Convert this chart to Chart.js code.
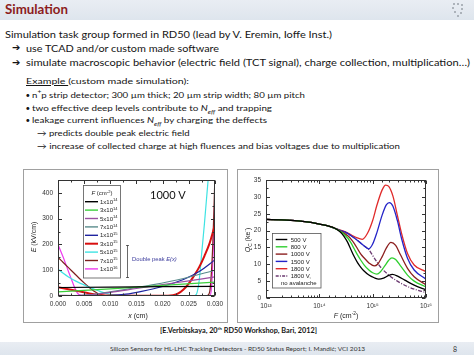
<!DOCTYPE html>
<html>
<head>
<meta charset="utf-8">
<title>Simulation</title>
<script src="https://cdn.jsdelivr.net/npm/chart.js@4.4.1/dist/chart.umd.min.js"></script>
<style>
  html, body { margin: 0; padding: 0; background: #fff; }
  body { width: 474px; height: 355px; position: relative; overflow: hidden;
         font-family: Lato, "Open Sans", sans-serif; color: #141414; }
  .bar { position: absolute; left: 0; width: 474px; background: linear-gradient(#e9edf3, #dee5ed); }
  .t { position: absolute; white-space: nowrap; line-height: 1; transform-origin: 0 0; }
  .arr { font-family: "DejaVu Sans", sans-serif; }
  .box { position: absolute; top: 169px; height: 154px; border: 1px solid #a0a0a0;
         box-sizing: border-box; background: #fff; }
  .box canvas { position: absolute; left: 0; top: 0; }
  .dot { position: absolute; width: 2px; height: 2px; border-radius: 1px; background: #9aa0a8; }
  sub, sup { line-height: 0; }
</style>
</head>
<body>
<div class="bar" style="top:0;height:20px"></div>
<div class="bar" style="top:342px;height:13px"></div>

<div class="t" data-b="14" data-w="63" style="left:5px;font-size:14px;font-weight:bold;color:#8c1c1c">Simulation</div>
<div class="dot" style="left:453px;top:3px"></div>
<div class="dot" style="left:457px;top:3px"></div>
<div class="dot" style="left:461px;top:4px"></div>
<div class="dot" style="left:452px;top:7px"></div>
<div class="dot" style="left:461px;top:8px"></div>
<div class="dot" style="left:454px;top:11px"></div>
<div class="dot" style="left:460px;top:12px"></div>
<div class="dot" style="left:457px;top:15px"></div>

<div class="t" data-b="38" data-w="327" style="left:5px;font-size:10.2px">Simulation task group formed in RD50 (lead by V. Eremin, Ioffe Inst.)</div>
<div class="t arr" data-b="52" style="left:12px;font-size:10px;font-weight:bold">➔</div>
<div class="t" data-b="52" data-w="193" style="left:26px;font-size:10.2px">use TCAD and/or custom made software</div>
<div class="t arr" data-b="66.4" style="left:12px;font-size:10px;font-weight:bold">➔</div>
<div class="t" data-b="66.4" data-w="444" style="left:26px;font-size:10.2px">simulate macroscopic behavior (electric field (TCT signal), charge collection, multiplication…)</div>

<div class="t" data-b="83.6" data-w="163" style="left:26px;font-size:8px"><span style="text-decoration:underline">Example </span>(custom made simulation):</div>
<div class="t" data-b="97.9" style="left:25.5px;font-size:8px">•</div>
<div class="t" data-b="97.9" data-w="273" style="left:31.7px;font-size:8px">n<sup style="font-size:5.5px">+</sup>p strip detector; 300 µm thick; 20 µm strip width; 80 µm pitch</div>
<div class="t" data-b="110.6" style="left:25.5px;font-size:8px">•</div>
<div class="t" data-b="110.6" data-w="240" style="left:31.7px;font-size:8px">two effective deep levels contribute to <i>N<sub style="font-size:5.5px">eff</sub></i> and trapping</div>
<div class="t" data-b="122.9" style="left:25.5px;font-size:8px">•</div>
<div class="t" data-b="122.9" data-w="235" style="left:31.7px;font-size:8px">leakage current influences <i>N<sub style="font-size:5.5px">eff</sub></i> by charging the deffects</div>
<div class="t" data-b="135.6" data-w="152.6" style="left:36.7px;font-size:8px">→ predicts double peak electric field</div>
<div class="t" data-b="148.6" data-w="363" style="left:36.7px;font-size:8px">→ increase of collected charge at high fluences and bias voltages due to multiplication</div>

<div class="box" style="left:23px;width:205px"><canvas id="fieldChart" width="203" height="152"></canvas></div>
<div class="box" style="left:237px;width:202px"><canvas id="chargeChart" width="200" height="152"></canvas></div>

<div class="t" data-b="333.2" data-w="157" style="left:160px;font-size:7px;font-weight:bold">[E.Verbitskaya, 20<sup style="font-size:4.5px">th</sup> RD50 Workshop, Bari, 2012]</div>
<div class="t" data-b="351.5" data-w="255" style="left:110px;font-size:6.5px;color:#333">Silicon Sensors for HL-LHC Tracking Detectors - RD50 Status Report; I. Mandić; VCI 2013</div>
<div class="t" data-b="352" style="left:453px;font-size:7px;color:#333">8</div>

<script>
// --- Slide text: place by baseline, squeeze to the measured widths ---
document.querySelectorAll('.t').forEach(el => {
    const fs = parseFloat(el.style.fontSize);
    el.style.top = (parseFloat(el.dataset.b) - 0.887 * fs) + 'px';
    if (el.dataset.w) {
        const w = el.getBoundingClientRect().width;
        el.style.transform = 'scaleX(' + (parseFloat(el.dataset.w) / w) + ')';
    }
});

// --- Left panel data: E(x) at 1000 V, x in cm, E in kV/cm ---
const fluenceMant = ['1', '3', '5', '7', '1', '3', '5', '7', '1'];
const fluenceExp = ['14', '14', '14', '14', '15', '15', '15', '15', '16'];
const fluenceColors = ['#000000', '#3ccf3c', '#9a4fa0', '#5a8c8c', '#1f24a0',
                       '#d80f0f', '#3fe3e3', '#7d1f1f', '#ee3bee'];

const e1e14 = [[0, 33], [0.01, 34.5], [0.02, 36], [0.03, 37.5]];
const e3e14 = [[0, 16], [0.01, 28], [0.02, 41], [0.03, 54]];
const e5e14 = [[0, 3], [0.003, 2], [0.006, 4], [0.01, 14], [0.015, 29], [0.02, 44], [0.025, 59], [0.03, 74]];
const e7e14 = [[0, 2], [0.004, 2], [0.0065, 5], [0.009, 13], [0.013, 26], [0.018, 43], [0.024, 68], [0.03, 100]];
const e1e15 = [[0, 1], [0.007, 1], [0.01, 2], [0.013, 7], [0.016, 18], [0.02, 37], [0.024, 64], [0.027, 95], [0.03, 140]];
const e3e15 = [[0, 34], [0.002, 26], [0.004, 18], [0.006, 10], [0.008, 4], [0.01, 1.5], [0.015, 1], [0.021, 1],
               [0.022, 3], [0.023, 10], [0.024, 25], [0.025, 48], [0.026, 78], [0.027, 112], [0.028, 155],
               [0.029, 205], [0.03, 275]];
const e5e15 = [[0, 104], [0.001, 88], [0.002, 74], [0.003, 62], [0.004, 52], [0.005, 43], [0.006, 34], [0.007, 26],
               [0.008, 18], [0.009, 11], [0.01, 6], [0.012, 2], [0.015, 1], [0.026, 1], [0.0265, 8], [0.027, 60],
               [0.0275, 170], [0.028, 280], [0.0285, 400], [0.029, 520]];
const e7e15 = [[0, 150], [0.001, 130], [0.002, 110], [0.003, 90], [0.004, 70], [0.005, 51], [0.006, 33], [0.007, 17],
               [0.008, 6], [0.009, 2], [0.012, 1], [0.0285, 1], [0.029, 15], [0.0293, 80], [0.0296, 200],
               [0.0298, 320], [0.03, 460]];
const e1e16 = [[0, 200], [0.001, 150], [0.002, 95], [0.003, 42], [0.0035, 18], [0.004, 6], [0.005, 1.5],
               [0.029, 1.5], [0.0293, 20], [0.0295, 80], [0.0297, 180], [0.0299, 320], [0.03, 405]];
const fieldSeries = [e1e14, e3e14, e5e14, e7e14, e1e15, e3e15, e5e15, e7e15, e1e16];

// --- Right panel data: collected charge Qc (ke-) vs fluence F (cm^-2) ---
const voltLabels = ['500 V', '800 V', '1000 V', '1500 V', '1800 V', '1800 V,'];
const voltColors = ['#000000', '#2fcf2f', '#8c1f1f', '#2424c8', '#e02a2a', '#6b3a70'];

const qHead = [[1e13, 23.3], [2e13, 23.2], [4e13, 22.9], [7e13, 22.4], [1e14, 21.9], [1.5e14, 21.3], [2e14, 20.6]];
const q500 = qHead.concat([[2.5e14, 19.5], [2.9e14, 18.3], [3.4e14, 16.5], [3.9e14, 14.4], [4.5e14, 12.3],
    [5.2e14, 10.5], [6e14, 9.1], [6.9e14, 8.0], [8.5e14, 6.8], [1.07e15, 6.0], [1.3e15, 5.6], [1.6e15, 5.9],
    [2e15, 6.7], [2.35e15, 7.0], [3e15, 6.4], [4e15, 5.3], [6e15, 3.8], [1e16, 2.4]]);
const q800 = qHead.concat([[2.5e14, 19.7], [2.9e14, 18.9], [3.4e14, 17.8], [3.9e14, 16.4], [4.5e14, 14.6],
    [5.2e14, 12.8], [6e14, 11.2], [7e14, 9.7], [8.5e14, 8.3], [1e15, 7.5], [1.2e15, 7.1], [1.4e15, 7.8],
    [1.7e15, 9.6], [2e15, 11.2], [2.3e15, 11.9], [2.7e15, 11.4], [3.3e15, 9.6], [4.5e15, 6.8], [6e15, 5.0], [1e16, 3.3]]);
const q1000 = qHead.concat([[2.5e14, 19.8], [3e14, 19.1], [3.5e14, 18.3], [4e14, 17.3], [4.6e14, 16.0],
    [5.2e14, 14.6], [6e14, 13.0], [7e14, 11.8], [8.5e14, 10.4], [1.07e15, 9.5], [1.25e15, 10.1], [1.5e15, 12.2],
    [1.8e15, 14.8], [2.2e15, 16.5], [2.7e15, 15.6], [3.3e15, 12.9], [4.5e15, 8.8], [6e15, 6.3], [1e16, 3.9]]);
const q1500 = qHead.concat([[2.5e14, 20.0], [3e14, 19.6], [4e14, 18.4], [5e14, 17.3], [6.5e14, 15.8],
    [8.5e14, 14.6], [1e15, 16.0], [1.2e15, 19.4], [1.5e15, 24.5], [1.8e15, 27.6], [2.05e15, 28.3], [2.4e15, 27.2],
    [2.9e15, 23.0], [3.5e15, 17.5], [4.5e15, 11.8], [6e15, 8.3], [1e16, 5.6]]);
const q1800 = qHead.concat([[2.5e14, 20.1], [3e14, 19.7], [4e14, 18.7], [5e14, 17.9], [6.4e14, 17.4],
    [8e14, 19.2], [1e15, 23.0], [1.2e15, 27.5], [1.5e15, 32.0], [1.75e15, 33.5], [2e15, 33.1], [2.4e15, 30.2],
    [2.9e15, 24.6], [3.5e15, 19.0], [4.5e15, 13.2], [6e15, 9.8], [1e16, 7.8]]);
const q1800noAv = qHead.concat([[2.5e14, 20.0], [3e14, 19.6], [4e14, 18.4], [5e14, 17.3], [6.5e14, 15.8],
    [8.5e14, 14.3], [1e15, 12.6], [1.4e15, 9.2], [2e15, 6.8], [2.9e15, 5.0], [5e15, 3.1], [1e16, 1.6]]);
const chargeSeries = [q500, q800, q1000, q1500, q1800, q1800noAv];

// --- Helpers ---
const FAM = '"Liberation Sans", Arial, sans-serif';
const SUP = { '0': '⁰', '1': '¹', '2': '²', '3': '³', '4': '⁴', '5': '⁵', '6': '⁶', '7': '⁷', '8': '⁸', '9': '⁹' };
const toXY = arr => arr.map(p => ({ x: p[0], y: p[1] }));

// parts: [text, kind], kind '' | 'i' | 'sup' | 'sub'
function richText(ctx, parts, x, y, size, align, family) {
    const fam = family || FAM;
    const fontFor = k => (k === 'i' ? 'italic ' : '') + ((k === 'sup' || k === 'sub') ? size * 0.68 : size) + 'px ' + fam;
    let w = 0;
    parts.forEach(([t, k]) => { ctx.font = fontFor(k); w += ctx.measureText(t).width; });
    let cx = align === 'center' ? x - w / 2 : (align === 'right' ? x - w : x);
    ctx.textAlign = 'left';
    ctx.textBaseline = 'alphabetic';
    parts.forEach(([t, k]) => {
        ctx.font = fontFor(k);
        const dy = k === 'sup' ? -size * 0.4 : (k === 'sub' ? size * 0.25 : 0);
        ctx.fillText(t, cx, y + dy);
        cx += ctx.measureText(t).width;
    });
}

function verticalTitle(ctx, parts, x, y, size) {
    ctx.save();
    ctx.translate(x, y);
    ctx.rotate(-Math.PI / 2);
    richText(ctx, parts, 0, size * 0.35, size, 'center');
    ctx.restore();
}

function isPow10(v) {
    const e = Math.log10(v);
    return Math.abs(e - Math.round(e)) < 1e-6;
}

// Frame round the plot area with inward major/minor ticks on all four sides
const frameTicks = {
    id: 'frameTicks',
    afterDatasetsDraw(chart) {
        const { ctx, chartArea: a } = chart;
        const L = Math.round(a.left) + 0.5, R = Math.round(a.right) - 0.5;
        const T = Math.round(a.top) + 0.5, B = Math.round(a.bottom) - 0.5;
        ctx.save();
        ctx.strokeStyle = '#333';
        ctx.lineWidth = 1;
        ctx.strokeRect(L, T, R - L, B - T);
        const marks = scale => {
            const out = [];
            const vals = scale.ticks.map(t => t.value);
            if (scale.type === 'logarithmic') {
                vals.forEach(v => out.push([v, isPow10(v) ? 3.5 : 2]));
            } else {
                vals.forEach(v => {
                    out.push([v, 3.5]);
                    const step = vals.length > 1 ? vals[1] - vals[0] : 0;
                    const mid = v + step / 2;
                    if (step && mid <= scale.max + 1e-12) out.push([mid, 2]);
                });
            }
            return out;
        };
        ctx.beginPath();
        marks(chart.scales.x).forEach(([v, len]) => {
            const px = Math.round(chart.scales.x.getPixelForValue(v)) + 0.5;
            ctx.moveTo(px, B); ctx.lineTo(px, B - len);
            ctx.moveTo(px, T); ctx.lineTo(px, T + len);
        });
        marks(chart.scales.y).forEach(([v, len]) => {
            const py = Math.round(chart.scales.y.getPixelForValue(v)) + 0.5;
            ctx.moveTo(L, py); ctx.lineTo(L + len, py);
            ctx.moveTo(R, py); ctx.lineTo(R - len, py);
        });
        ctx.stroke();
        ctx.restore();
    }
};

const tickFont = { family: FAM, size: 6.5 };
const noGrid = { display: false, drawTicks: false, tickLength: 0 };

// --- Left chart: electric field profiles ---
const fieldDecor = {
    id: 'fieldDecor',
    afterDraw(chart) {
        const ctx = chart.ctx;
        ctx.save();
        ctx.fillStyle = '#222';
        verticalTitle(ctx, [['E', 'i'], [' (kV/cm)', '']], 10, 67, 7);
        richText(ctx, [['x', 'i'], [' (cm)', '']], 114, 147.5, 7, 'center');

        // legend box
        ctx.fillStyle = '#fff';
        ctx.fillRect(59, 15, 38, 93);
        ctx.strokeStyle = '#555';
        ctx.lineWidth = 0.8;
        ctx.strokeRect(59.5, 15.5, 37, 92.5);
        ctx.fillStyle = '#222';
        richText(ctx, [['F', 'i'], [' (cm', ''], ['-2', 'sup'], [')', '']], 78, 25.3, 6, 'center');
        fluenceMant.forEach((m, i) => {
            const y = 31.7 + i * 8.4;
            ctx.strokeStyle = fluenceColors[i];
            ctx.lineWidth = i === 5 ? 2 : 1.4;
            ctx.beginPath(); ctx.moveTo(61, y); ctx.lineTo(74, y); ctx.stroke();
            ctx.fillStyle = '#222';
            richText(ctx, [[m + 'x10', ''], [fluenceExp[i], 'sup']], 76, y + 2.1, 6, 'left');
        });

        // double-peak bracket
        ctx.strokeStyle = '#444';
        ctx.lineWidth = 0.8;
        ctx.beginPath();
        ctx.moveTo(103.5, 75); ctx.lineTo(103.5, 108);
        ctx.moveTo(102, 75.5); ctx.lineTo(105, 75.5);
        ctx.moveTo(102, 107.5); ctx.lineTo(105, 107.5);
        ctx.stroke();
        ctx.fillStyle = '#3b3b9c';
        richText(ctx, [['Double peak ', ''], ['E(x)', 'i']], 108, 91.3, 5.8, 'left');

        ctx.fillStyle = '#111';
        richText(ctx, [['1000 V', '']], 126, 29, 11, 'left', 'Lato, sans-serif');
        ctx.restore();
    }
};

new Chart(document.getElementById('fieldChart'), {
    type: 'line',
    data: {
        datasets: fieldSeries.map((s, i) => ({
            data: toXY(s),
            borderColor: fluenceColors[i],
            borderWidth: i === 5 ? 2 : 1.2,
            pointRadius: 0,
            cubicInterpolationMode: 'monotone'
        }))
    },
    options: {
        responsive: false,
        animation: false,
        layout: { padding: { left: 0, top: 10, right: 9, bottom: 0 } },
        plugins: { legend: { display: false }, tooltip: { enabled: false } },
        scales: {
            x: {
                type: 'linear', min: 0, max: 0.03,
                afterFit: s => { s.height = 26; },
                grid: noGrid, border: { display: false },
                ticks: { stepSize: 0.005, includeBounds: false, maxRotation: 0, autoSkip: false,
                         padding: 4, color: '#333', font: tickFont, callback: v => v.toFixed(3) }
            },
            y: {
                min: 0, max: 450,
                afterFit: s => { s.width = 34; },
                grid: noGrid, border: { display: false },
                ticks: { stepSize: 100, includeBounds: false, padding: 5, color: '#333', font: tickFont }
            }
        }
    },
    plugins: [frameTicks, fieldDecor]
});

// --- Right chart: collected charge vs fluence ---
const chargeDecor = {
    id: 'chargeDecor',
    afterDraw(chart) {
        const ctx = chart.ctx;
        ctx.save();
        ctx.fillStyle = '#222';
        verticalTitle(ctx, [['Q', 'i'], ['C', 'sub'], [' (ke', ''], ['-', 'sup'], [')', '']], 9.7, 70, 7);
        richText(ctx, [['F', 'i'], [' (cm', ''], ['-2', 'sup'], [')', '']], 108, 147.5, 7, 'center');

        ctx.fillStyle = '#fff';
        ctx.fillRect(34, 63, 49, 55);
        ctx.strokeStyle = '#555';
        ctx.lineWidth = 0.8;
        ctx.strokeRect(34.5, 63.5, 48.5, 54.5);
        voltLabels.forEach((lab, i) => {
            const y = 69.5 + i * 7.3;
            ctx.strokeStyle = voltColors[i];
            ctx.lineWidth = 1.4;
            ctx.setLineDash(i === 5 ? [3, 1.2, 1, 1.2] : []);
            ctx.beginPath(); ctx.moveTo(37.7, y); ctx.lineTo(49.3, y); ctx.stroke();
            ctx.fillStyle = '#222';
            richText(ctx, [[lab, '']], 52.7, y + 2.1, 6, 'left');
        });
        ctx.setLineDash([]);
        richText(ctx, [['no avalanche', '']], 43, 69.5 + 6 * 7.3 + 2.1, 6, 'left');
        ctx.restore();
    }
};

new Chart(document.getElementById('chargeChart'), {
    type: 'line',
    data: {
        datasets: chargeSeries.map((s, i) => ({
            data: toXY(s),
            borderColor: voltColors[i],
            borderWidth: 1.3,
            borderDash: i === 5 ? [4, 1.5, 1, 1.5] : [],
            pointRadius: 0,
            cubicInterpolationMode: 'monotone'
        }))
    },
    options: {
        responsive: false,
        animation: false,
        layout: { padding: { left: 0, top: 10, right: 12, bottom: 0 } },
        plugins: { legend: { display: false }, tooltip: { enabled: false } },
        scales: {
            x: {
                type: 'logarithmic', min: 1e13, max: 1e16,
                afterFit: s => { s.height = 24; },
                grid: noGrid, border: { display: false },
                ticks: {
                    maxRotation: 0, autoSkip: false, padding: 4, color: '#333', font: tickFont,
                    callback: v => isPow10(v)
                        ? '10' + String(Math.round(Math.log10(v))).split('').map(d => SUP[d]).join('')
                        : ''
                }
            },
            y: {
                min: 0, max: 35,
                afterFit: s => { s.width = 28; },
                grid: noGrid, border: { display: false },
                ticks: { stepSize: 5, includeBounds: false, padding: 5, color: '#333', font: tickFont }
            }
        }
    },
    plugins: [frameTicks, chargeDecor]
});
</script>
</body>
</html>
